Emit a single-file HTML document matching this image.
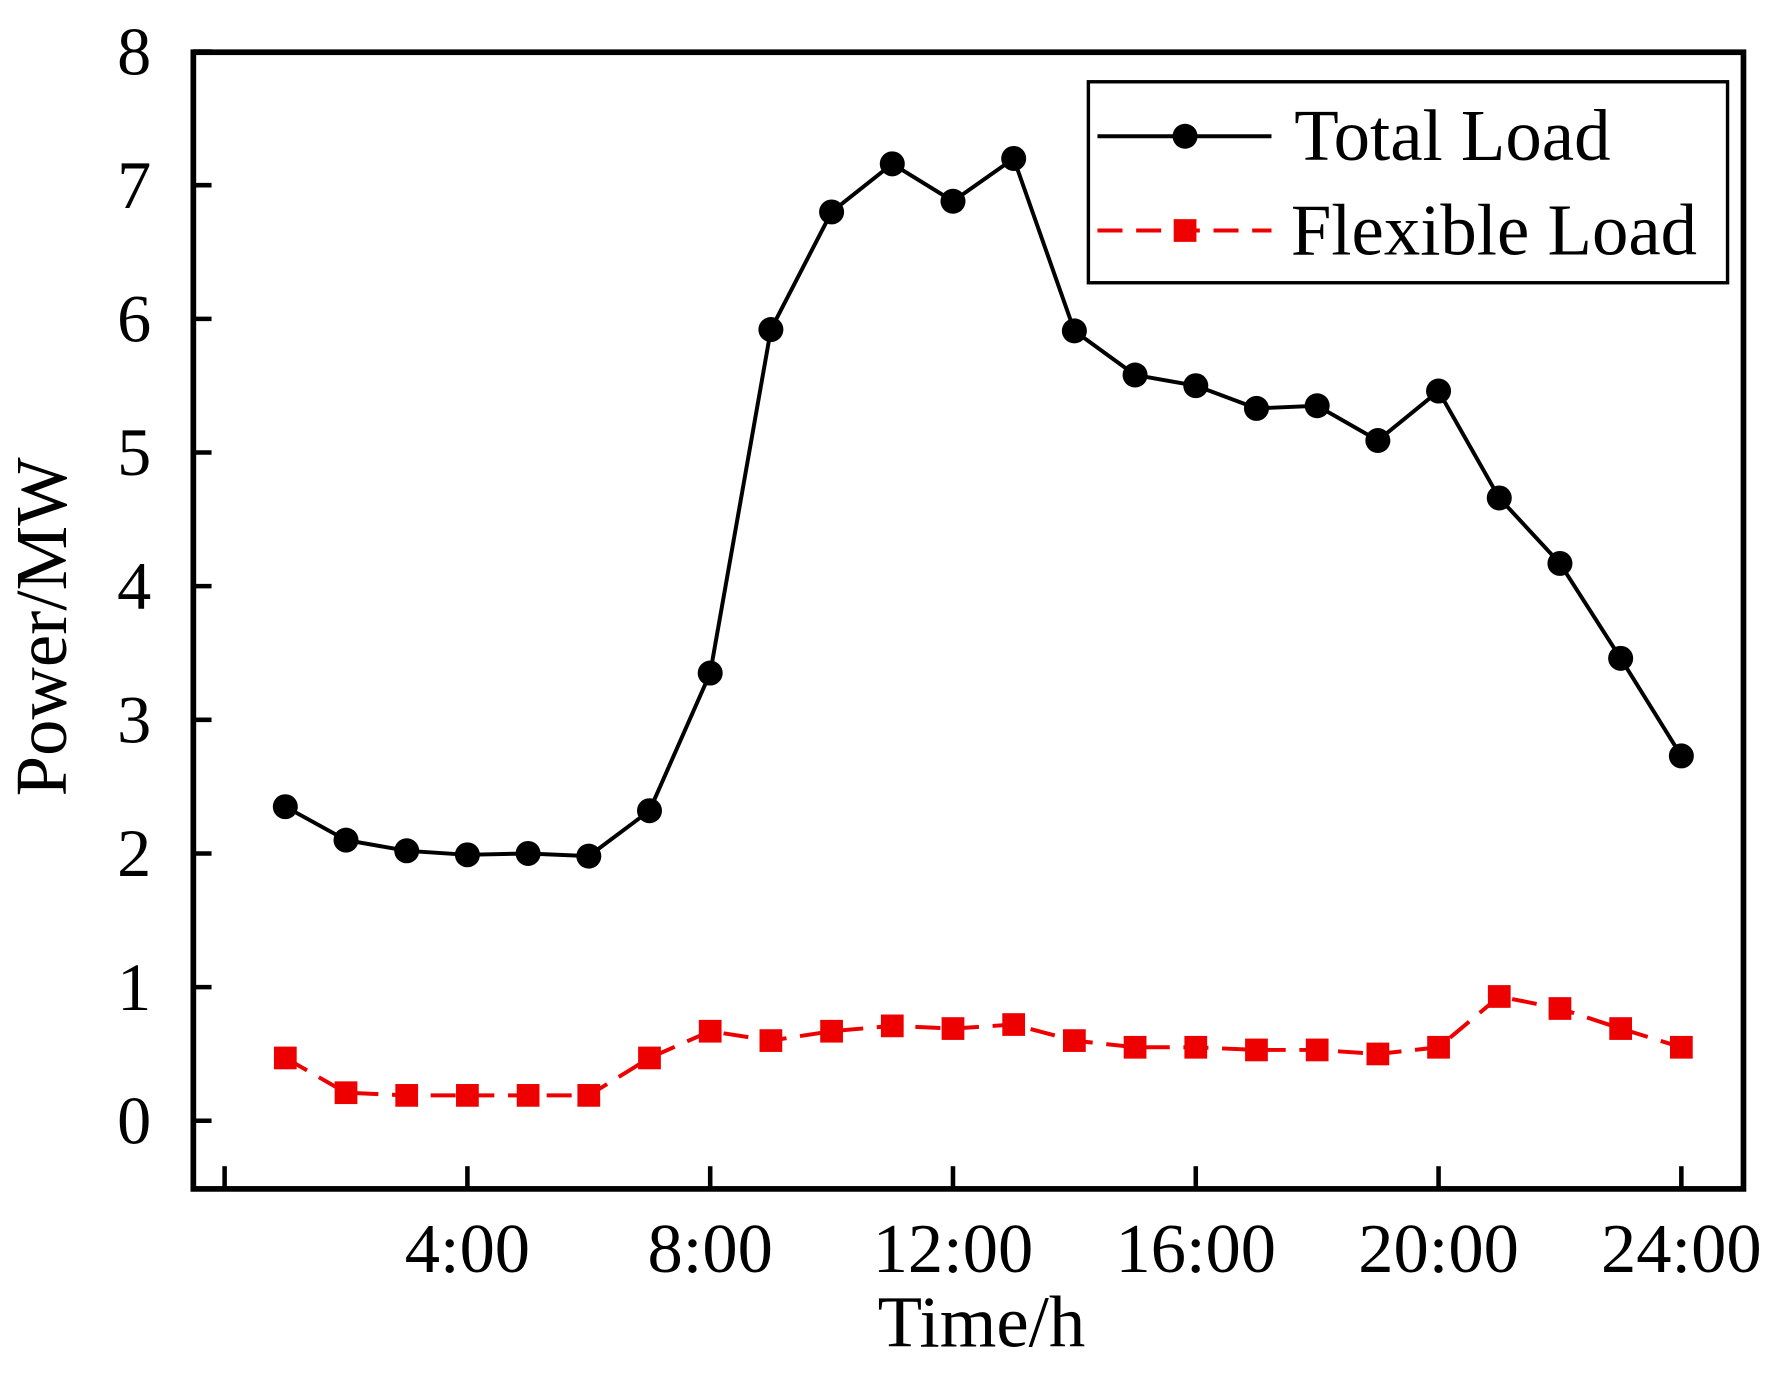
<!DOCTYPE html>
<html><head><meta charset="utf-8"><style>html,body{margin:0;padding:0;background:#fff}svg{display:block}</style></head>
<body>
<svg id="s" width="1781" height="1374" viewBox="0 0 1566 1210" preserveAspectRatio="none" xmlns="http://www.w3.org/2000/svg" font-family="Liberation Serif, serif">
<rect x="0" y="0" width="1566" height="1210" fill="#fff"/>
<g id="g"></g>
<rect x="170" y="46" width="1363" height="1001" fill="none" stroke="#000" stroke-width="5"/>
<text x="58" y="552" font-size="64" text-anchor="middle" transform="rotate(-90 58 552)">Power/MW</text>
<text x="863" y="1186" font-size="64" text-anchor="middle">Time/h</text>
<rect x="957" y="72" width="562" height="177" fill="#fff" stroke="#000" stroke-width="3"/>
<line x1="965" y1="120" x2="1118" y2="120" stroke="#000" stroke-width="3.5"/>
<circle cx="1042" cy="120" r="11" fill="#000"/>
<text x="1138" y="141" font-size="64">Total Load</text>
<line x1="965" y1="203" x2="1118" y2="203" stroke="#e00" stroke-width="3.5" stroke-dasharray="22,12"/>
<rect x="1032" y="193" width="20" height="20" fill="#e00"/>
<text x="1135" y="224" font-size="64">Flexible Load</text>
</svg>
<script>
var g=document.getElementById('g'),h='';
function X(t){return 197.5+53.37*t}function Y(v){return 987-117.7*v}
for(var i=0;i<=8;i++){var y=Y(i);h+='<line x1="170" y1="'+y+'" x2="186" y2="'+y+'" stroke="#000" stroke-width="4"/><text x="133" y="'+(y+20)+'" font-size="60" text-anchor="end">'+i+'</text>';}
for(var t=0;t<=24;t+=4){var x=X(t);h+='<line x1="'+x+'" y1="1047" x2="'+x+'" y2="1027" stroke="#000" stroke-width="4"/>';if(t>0)h+='<text x="'+x+'" y="1120" font-size="62" text-anchor="middle">'+t+':00</text>';}
var T=[2.35,2.1,2.02,1.99,2.0,1.98,2.32,3.35,5.92,6.8,7.16,6.88,7.2,5.91,5.58,5.5,5.33,5.35,5.09,5.46,4.66,4.17,3.46,2.73];
var F=[0.47,0.21,0.19,0.19,0.19,0.19,0.47,0.67,0.6,0.67,0.71,0.69,0.72,0.6,0.55,0.55,0.53,0.53,0.5,0.55,0.93,0.84,0.69,0.55];
var pt=[],pf=[];for(var k=0;k<24;k++){pt.push(X(k+1)+','+Y(T[k]));pf.push(X(k+1)+','+Y(F[k]));}
h+='<polyline points="'+pf.join(' ')+'" fill="none" stroke="#e00" stroke-width="3.5" stroke-dasharray="22,12"/>';
h+='<polyline points="'+pt.join(' ')+'" fill="none" stroke="#000" stroke-width="3.5"/>';
for(var k=0;k<24;k++){h+='<circle cx="'+X(k+1)+'" cy="'+Y(T[k])+'" r="11" fill="#000"/>';h+='<rect x="'+(X(k+1)-10)+'" y="'+(Y(F[k])-10)+'" width="20" height="20" fill="#e00"/>';}
g.innerHTML=h;
</script>
</body></html>
